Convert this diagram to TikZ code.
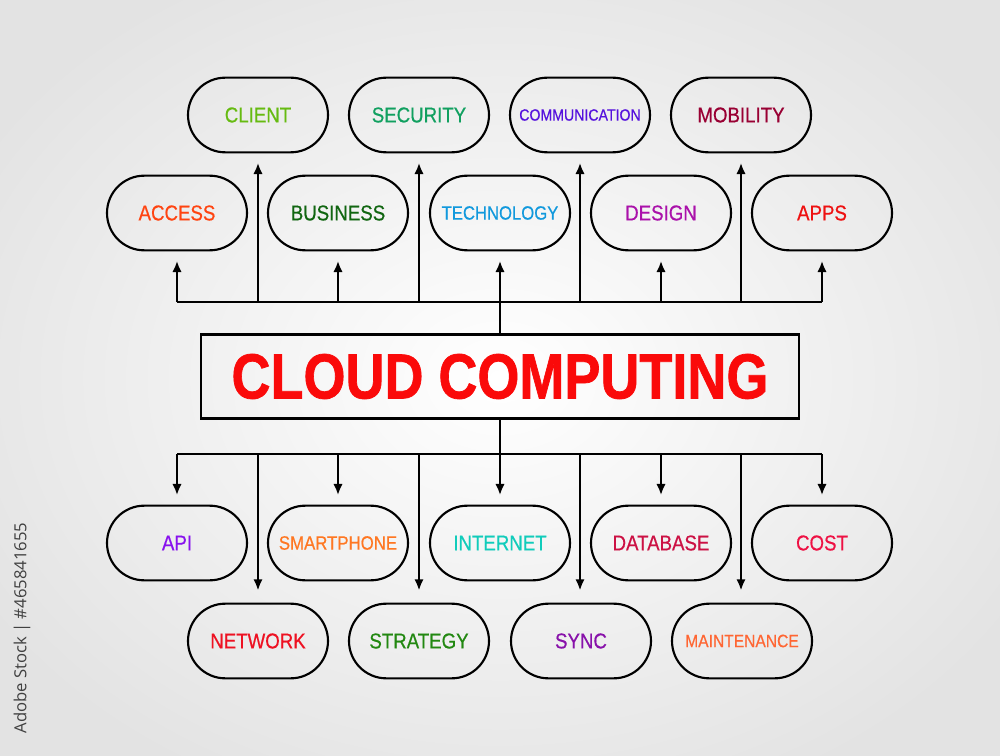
\documentclass[tikz,border=0pt]{standalone}
\usepackage{fontspec}
\setmainfont{Liberation Sans}
\newfontfamily\lblfont[FakeBold=0.6]{Liberation Sans}
\newfontfamily\titlefont[FakeBold=1.2]{Liberation Sans Bold}
\newfontfamily\wmfont{Open Sans}
\usetikzlibrary{arrows.meta}
\newcommand{\lbl}[1]{\scalebox{1}[1.15]{#1}}
\definecolor{cClient}{RGB}{102,187,17}
\definecolor{cSecurity}{RGB}{17,160,96}
\definecolor{cComm}{RGB}{85,17,221}
\definecolor{cMobility}{RGB}{153,0,51}
\definecolor{cAccess}{RGB}{255,68,17}
\definecolor{cBusiness}{RGB}{17,102,17}
\definecolor{cTech}{RGB}{17,153,221}
\definecolor{cDesign}{RGB}{170,17,170}
\definecolor{cApps}{RGB}{238,17,17}
\definecolor{cApi}{RGB}{136,17,238}
\definecolor{cSmart}{RGB}{255,119,34}
\definecolor{cInternet}{RGB}{17,204,187}
\definecolor{cDatabase}{RGB}{204,17,68}
\definecolor{cCost}{RGB}{238,17,68}
\definecolor{cNetwork}{RGB}{238,17,34}
\definecolor{cStrategy}{RGB}{34,136,17}
\definecolor{cSync}{RGB}{136,17,170}
\definecolor{cMaint}{RGB}{255,102,51}
\definecolor{cTitle}{RGB}{250,10,10}
\begin{document}
\begin{tikzpicture}[x=0.75pt,y=-0.75pt,
  pill/.style={draw=black, line width=1.6pt, rounded corners=28pt, minimum width=105pt, minimum height=56pt, inner sep=0pt, font=\lblfont\fontsize{14}{14}\selectfont},
  link/.style={draw=black, line width=1.8pt},
  arr/.style={link, -{Latex[length=8.5pt,width=7pt]}, shorten >=7pt}]
\useasboundingbox (0,0) rectangle (1000,756);
\fill[inner color=white, outer color=black!11] (-100,-80) rectangle (1100,836);

% top rows
\node[pill, text=cClient] (client) at (258,115) {\lbl{CLIENT}};
\node[pill, text=cSecurity] (security) at (419,115) {\lbl{SECURITY}};
\node[pill, text=cComm, font=\lblfont\fontsize{10.6}{11}\selectfont] (comm) at (580,115) {\lbl{COMMUNICATION}};
\node[pill, text=cMobility] (mobility) at (741,115) {\lbl{MOBILITY}};
\node[pill, text=cAccess] (access) at (177,213) {\lbl{ACCESS}};
\node[pill, text=cBusiness] (business) at (338,213) {\lbl{BUSINESS}};
\node[pill, text=cTech, font=\lblfont\fontsize{12.5}{13}\selectfont] (tech) at (500,213) {\lbl{TECHNOLOGY}};
\node[pill, text=cDesign] (design) at (661,213) {\lbl{DESIGN}};
\node[pill, text=cApps] (apps) at (822,213) {\lbl{APPS}};

% center
\node[draw=black, line width=1.6pt, minimum width=449pt, minimum height=63pt, inner sep=0pt, text=cTitle] (cc) at (500,376.5)
  {\scalebox{1}[1.18]{\titlefont\fontsize{40.5}{41}\selectfont CLOUD COMPUTING}};

% bottom rows
\node[pill, text=cApi] (api) at (177,543) {\lbl{API}};
\node[pill, text=cSmart, font=\lblfont\fontsize{12.6}{13}\selectfont] (smart) at (338,543) {\lbl{SMARTPHONE}};
\node[pill, text=cInternet] (internet) at (500,543) {\lbl{INTERNET}};
\node[pill, text=cDatabase] (database) at (661,543) {\lbl{DATABASE}};
\node[pill, text=cCost] (cost) at (822,543) {\lbl{COST}};
\node[pill, text=cNetwork] (network) at (258,641) {\lbl{NETWORK}};
\node[pill, text=cStrategy] (strategy) at (419,641) {\lbl{STRATEGY}};
\node[pill, text=cSync] (sync) at (581,641) {\lbl{SYNC}};
\node[pill, text=cMaint, font=\lblfont\fontsize{11.7}{12}\selectfont] (maint) at (742,641) {\lbl{MAINTENANCE}};

% top bus
\coordinate (t1) at (177,302);
\coordinate (t2) at (258,302);
\coordinate (t3) at (338,302);
\coordinate (t4) at (419,302);
\coordinate (t5) at (500,302);
\coordinate (t6) at (580,302);
\coordinate (t7) at (661,302);
\coordinate (t8) at (741,302);
\coordinate (t9) at (822,302);
\draw[link] (t1) -- (t9);
\draw[link] (cc.north) -- (t5);
\draw[arr] (t1) -- (access.south);
\draw[arr] (t2) -- (client.south);
\draw[arr] (t3) -- (business.south);
\draw[arr] (t4) -- (security.south);
\draw[arr] (t5) -- (tech.south);
\draw[arr] (t6) -- (comm.south);
\draw[arr] (t7) -- (design.south);
\draw[arr] (t8) -- (mobility.south);
\draw[arr] (t9) -- (apps.south);

% bottom bus
\coordinate (b1) at (177,454);
\coordinate (b2) at (258,454);
\coordinate (b3) at (338,454);
\coordinate (b4) at (419,454);
\coordinate (b5) at (500,454);
\coordinate (b6) at (580,454);
\coordinate (b7) at (661,454);
\coordinate (b8) at (741,454);
\coordinate (b9) at (822,454);
\draw[link] (b1) -- (b9);
\draw[link] (cc.south) -- (b5);
\draw[arr] (b1) -- (api.north);
\draw[arr, shorten >=9pt] (b2) -- (network.north);
\draw[arr] (b3) -- (smart.north);
\draw[arr, shorten >=9pt] (b4) -- (strategy.north);
\draw[arr] (b5) -- (internet.north);
\draw[arr, shorten >=9pt] (b6) -- (b6 |- sync.north);
\draw[arr] (b7) -- (database.north);
\draw[arr, shorten >=9pt] (b8) -- (b8 |- maint.north);
\draw[arr] (b9) -- (cost.north);

% side text
\node[rotate=90, text=black!75, font=\wmfont\fontsize{12.5}{12.5}\selectfont] (wm) at (22,628) {Adobe Stock | \#465841655};
\end{tikzpicture}
\end{document}
